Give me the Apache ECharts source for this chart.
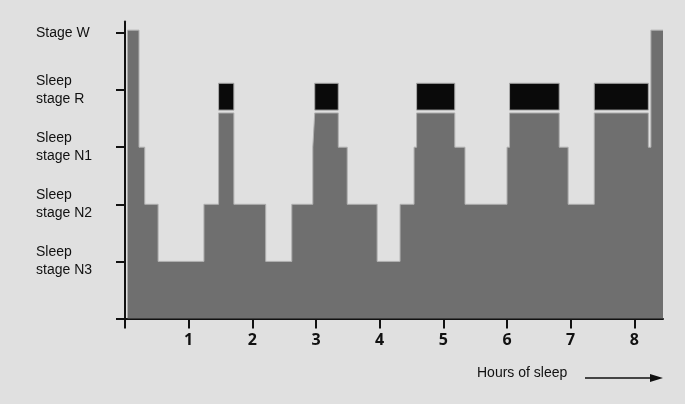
<!DOCTYPE html>
<html>
<head>
<meta charset="utf-8">
<script src="https://cdn.jsdelivr.net/npm/echarts@6/dist/echarts.min.js"></script>
<style>html,body{margin:0;padding:0;background:#e0e0e0;}#chart{width:685px;height:404px;}</style>
</head>
<body>
<div id="chart"></div>
<script>
// stage levels: 1=N3, 2=N2, 3=N1, 4=REM, 5=W
var stageNames = ['', 'Sleep\nstage N3', 'Sleep\nstage N2', 'Sleep\nstage N1', 'Sleep\nstage R', 'Stage W'];
var segStart = [0.04, 0.22, 0.31, 0.52, 1.24, 1.47, 1.71, 2.21, 2.62, 2.95, 2.98, 3.35, 3.49, 3.96, 4.32, 4.54, 4.58, 5.18, 5.34, 6.00, 6.04, 6.82, 6.96, 7.37, 8.22, 8.26];
var segStage = [5, 3, 2, 1, 2, 4, 2, 1, 2, 3, 4, 3, 2, 1, 2, 3, 4, 3, 2, 3, 4, 3, 2, 4, 3, 5];
var endHour = 8.45;
var xTicks = [1, 2, 3, 4, 5, 6, 7, 8];

var remGrayTop = 3.6, remBlackLow = 3.65, remBlackHigh = 4.12;

var stepData = [];
var remBlocks = [];
for (var i = 0; i < segStart.length; i++) {
    var s = segStage[i];
    var v = s === 5 ? 5.05 : (s === 4 ? remGrayTop : s);
    stepData.push([segStart[i], v]);
    if (s === 4) remBlocks.push([segStart[i], segStart[i + 1]]);
}
stepData.push([endHour, stepData[stepData.length - 1][1]]);

var myChart = echarts.init(document.getElementById('chart'));
var option = {
    backgroundColor: '#e0e0e0',
    animation: false,
    grid: { left: 125, right: 22, top: 21.6, bottom: 85.5 },
    xAxis: {
        type: 'value', min: 0, max: endHour, interval: 1,
        axisLine: { lineStyle: { color: '#111', width: 2 } },
        axisTick: { show: true, length: 10, lineStyle: { color: '#111', width: 2 } },
        splitLine: { show: false },
        axisLabel: {
            color: '#111', fontSize: 16, fontWeight: 'bold', fontFamily: 'Open Sans', margin: 14,
            showMaxLabel: false,
            formatter: function (v) { return xTicks.indexOf(v) >= 0 ? v : ''; }
        }
    },
    yAxis: {
        type: 'value', min: 0, max: 5.2, interval: 1,
        axisLine: { show: true, lineStyle: { color: '#111', width: 2 } },
        axisTick: { show: true, length: 9, lineStyle: { color: '#111', width: 2 } },
        splitLine: { show: false },
        axisLabel: {
            color: '#111', fontSize: 14, fontFamily: 'Liberation Sans', align: 'left', margin: 89,
            lineHeight: 18, showMaxLabel: false,
            formatter: function (v) { return stageNames[v] || ''; }
        }
    },
    graphic: [
        { type: 'text', left: 477, top: 366, style: { text: 'Hours of sleep', fontSize: 14, fontFamily: 'Liberation Sans', fill: '#111' } },
        { type: 'line', shape: { x1: 585, y1: 378, x2: 652, y2: 378 }, style: { stroke: '#111', lineWidth: 1.5 } },
        { type: 'polygon', shape: { points: [[650, 374], [663, 378], [650, 382]] }, style: { fill: '#111' } }
    ],
    series: [
        {
            type: 'line', step: 'end', data: stepData, symbol: 'none',
            lineStyle: { color: '#b0b0b0', width: 1 },
            areaStyle: { color: '#6f6f6f', opacity: 1, origin: 'start' },
            z: 2
        },
        {
            type: 'custom', data: remBlocks,
            renderItem: function (params, api) {
                var p1 = api.coord([api.value(0), remBlackHigh]);
                var p2 = api.coord([api.value(1), remBlackLow]);
                return {
                    type: 'rect',
                    shape: { x: p1[0], y: p1[1], width: p2[0] - p1[0], height: p2[1] - p1[1] },
                    style: { fill: '#0a0a0a', stroke: '#aaa', lineWidth: 1 }
                };
            },
            z: 3
        }
    ]
};
myChart.setOption(option);
</script>
</body>
</html>
